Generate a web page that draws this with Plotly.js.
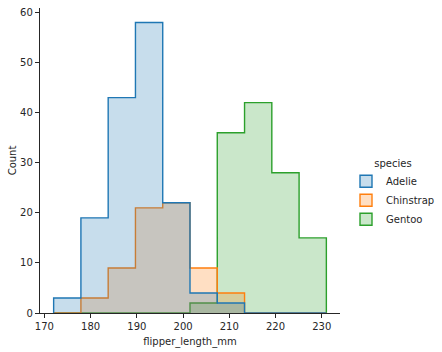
<!DOCTYPE html>
<html>
<head>
<meta charset="utf-8">
<script src="https://cdn.plot.ly/plotly-3.0.1.min.js"></script>
<style>html,body{margin:0;padding:0;background:#fff;}#chart{width:442px;height:352px;}</style>
</head>
<body>
<div id="chart"></div>
<script>
// Shared bin edges (flipper_length_mm)
const binEdges = [172, 177.9, 183.8, 189.7, 195.6, 201.5, 207.4, 213.3, 219.2, 225.1, 231];
const species = ["Adelie", "Chinstrap", "Gentoo"];
const countsAdelie    = [3, 19, 43, 58, 22, 4, 2, 0, 0, 0];
const countsChinstrap = [0, 3, 9, 21, 22, 9, 4, 0, 0, 0];
const countsGentoo    = [0, 0, 0, 0, 0, 2, 36, 42, 28, 15];
const xTicks = [170, 180, 190, 200, 210, 220, 230];
const yTicks = [0, 10, 20, 30, 40, 50, 60];

const colors = {Adelie: "31,119,180", Chinstrap: "255,127,14", Gentoo: "44,160,44"};
const countsBy = {Adelie: countsAdelie, Chinstrap: countsChinstrap, Gentoo: countsGentoo};

function stepPoints(edges, counts) {
  const xs = [edges[0]], ys = [0];
  for (let i = 0; i < counts.length; i++) { xs.push(edges[i]); ys.push(counts[i]); }
  xs.push(edges[edges.length - 1]); ys.push(counts[counts.length - 1]);
  xs.push(edges[edges.length - 1]); ys.push(0);
  return {xs, ys};
}

const traces = [];
// draw in reverse hue order (Gentoo first) like seaborn
species.slice().reverse().forEach(sp => {
  const p = stepPoints(binEdges, countsBy[sp]);
  traces.push({
    type: "scatter", mode: "lines", x: p.xs, y: p.ys,
    line: {shape: "hv", color: "rgb(" + colors[sp] + ")", width: 1.4},
    fill: "tozeroy", fillcolor: "rgba(" + colors[sp] + ",0.25)",
    showlegend: false, hoverinfo: "skip"
  });
});
// legend entries (patch-like swatches)
species.forEach((sp, i) => {
  traces.push({
    type: "bar", x: [null], y: [null], name: sp, legendrank: i + 1, showlegend: true,
    marker: {color: "rgba(" + colors[sp] + ",0.25)", line: {color: "rgb(" + colors[sp] + ")", width: 1.4}}
  });
});

const txt = "#262626";
const layout = {
  width: 442, height: 352,
  margin: {l: 40, r: 102, t: 7.5, b: 39, pad: 0, autoexpand: false},
  paper_bgcolor: "#fff", plot_bgcolor: "#fff",
  font: {family: "DejaVu Sans", size: 10, color: txt},
  showlegend: true,
  legend: {
    x: 1.02, xanchor: "left", y: 0.522, yanchor: "top",
    title: {text: "species", side: "top center", font: {size: 10, color: txt}},
    font: {size: 10, color: txt}, bgcolor: "rgba(0,0,0,0)",
    itemclick: false
  },
  xaxis: {
    type: "linear", range: [169.05, 233.95], tickvals: xTicks, ticktext: xTicks.map(String),
    showgrid: false, zeroline: false, showline: true, linecolor: txt, linewidth: 1.2,
    ticks: "outside", ticklen: 4, tickwidth: 1, tickcolor: txt,
    title: {text: "flipper_length_mm", font: {size: 10, color: txt}, standoff: 6}
  },
  yaxis: {
    type: "linear", range: [0, 60.9], tickvals: yTicks, ticktext: yTicks.map(String),
    showgrid: false, zeroline: false, showline: true, linecolor: txt, linewidth: 1.2,
    ticks: "outside", ticklen: 4, tickwidth: 1, tickcolor: txt,
    title: {text: "Count", font: {size: 10, color: txt}, standoff: 1}
  }
};
Plotly.newPlot("chart", traces, layout, {staticPlot: true, displayModeBar: false});
</script>
</body>
</html>
